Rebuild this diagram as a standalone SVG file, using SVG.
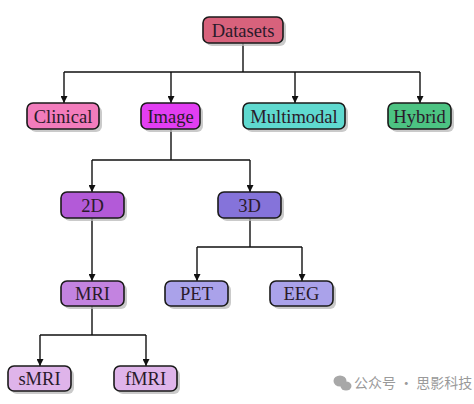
<svg xmlns="http://www.w3.org/2000/svg" width="474" height="404" viewBox="0 0 474 404">
<defs>
<style>
.box{stroke:#1a1a1a;stroke-width:1.6}
.sh{fill:#b8b8b8;opacity:0.75}
.t{font-family:"Liberation Serif","Times New Roman",serif;font-size:18.5px;fill:#2a1a2a;text-anchor:middle}
.c{fill:none;stroke:#111;stroke-width:1.4}
.wm{font-family:"Noto Sans CJK SC","Noto Sans",sans-serif;font-size:14px;fill:#9a9a9a}
</style>
<marker id="ah" viewBox="0 0 10 10" refX="10" refY="5" markerWidth="7" markerHeight="7" orient="auto" markerUnits="userSpaceOnUse">
<path d="M0,0 L10,5 L0,10 z" fill="#111"/>
</marker>
</defs>
<rect width="474" height="404" fill="#fff"/>
<g id="connectors">
<path class="c" d="M243,43 V72 M64,72 H420"/>
<path class="c" d="M64,72 V103" marker-end="url(#ah)"/>
<path class="c" d="M171,72 V103" marker-end="url(#ah)"/>
<path class="c" d="M295,72 V103" marker-end="url(#ah)"/>
<path class="c" d="M420,72 V103" marker-end="url(#ah)"/>
<path class="c" d="M171,129 V160 M92,160 H250"/>
<path class="c" d="M92,160 V192" marker-end="url(#ah)"/>
<path class="c" d="M250,160 V192" marker-end="url(#ah)"/>
<path class="c" d="M92,218 V281" marker-end="url(#ah)"/>
<path class="c" d="M250,218 V247 M197,247 H302"/>
<path class="c" d="M197,247 V281" marker-end="url(#ah)"/>
<path class="c" d="M302,247 V281" marker-end="url(#ah)"/>
<path class="c" d="M92,306 V335 M40,335 H146"/>
<path class="c" d="M40,335 V366" marker-end="url(#ah)"/>
<path class="c" d="M146,335 V366" marker-end="url(#ah)"/>
</g>
<g id="datasets"><rect class="sh" x="206" y="20" width="80" height="26" rx="6"/><rect class="box" x="203" y="17" width="80" height="26" rx="6" fill="#d8627c"/><text class="t" x="243" y="36.5">Datasets</text></g>
<g id="clinical"><rect class="sh" x="30" y="106" width="72" height="26" rx="6"/><rect class="box" x="27" y="103" width="72" height="26" rx="6" fill="#f27cbc"/><text class="t" x="63" y="122.5">Clinical</text></g>
<g id="image"><rect class="sh" x="144" y="106" width="59" height="26" rx="6"/><rect class="box" x="141" y="103" width="59" height="26" rx="6" fill="#e23ef2"/><text class="t" x="170.5" y="122.5">Image</text></g>
<g id="multimodal"><rect class="sh" x="246" y="106" width="102" height="26" rx="6"/><rect class="box" x="243" y="103" width="102" height="26" rx="6" fill="#5fd9cf"/><text class="t" x="294" y="122.5">Multimodal</text></g>
<g id="hybrid"><rect class="sh" x="391" y="106" width="63" height="26" rx="6"/><rect class="box" x="388" y="103" width="63" height="26" rx="6" fill="#4cc382"/><text class="t" x="419.5" y="122.5">Hybrid</text></g>
<g id="n2d"><rect class="sh" x="64" y="195" width="63" height="26" rx="6"/><rect class="box" x="61" y="192" width="63" height="26" rx="6" fill="#b35ad8"/><text class="t" x="92.5" y="211.5">2D</text></g>
<g id="n3d"><rect class="sh" x="221" y="195" width="63" height="26" rx="6"/><rect class="box" x="218" y="192" width="63" height="26" rx="6" fill="#8573da"/><text class="t" x="249.5" y="211.5">3D</text></g>
<g id="mri"><rect class="sh" x="64" y="284" width="63" height="25" rx="6"/><rect class="box" x="61" y="281" width="63" height="25" rx="6" fill="#c383e0"/><text class="t" x="92.5" y="300">MRI</text></g>
<g id="pet"><rect class="sh" x="168" y="284" width="63" height="25" rx="6"/><rect class="box" x="165" y="281" width="63" height="25" rx="6" fill="#aaa2ea"/><text class="t" x="196.5" y="300">PET</text></g>
<g id="eeg"><rect class="sh" x="273" y="284" width="63" height="25" rx="6"/><rect class="box" x="270" y="281" width="63" height="25" rx="6" fill="#aaa2ea"/><text class="t" x="301.5" y="300">EEG</text></g>
<g id="smri"><rect class="sh" x="11" y="369" width="63" height="25" rx="6"/><rect class="box" x="8" y="366" width="63" height="25" rx="6" fill="#dfb4ea"/><text class="t" x="39.5" y="385">sMRI</text></g>
<g id="fmri"><rect class="sh" x="117" y="369" width="63" height="25" rx="6"/><rect class="box" x="114" y="366" width="63" height="25" rx="6" fill="#dfb4ea"/><text class="t" x="145.5" y="385">fMRI</text></g>
<g id="watermark">
<ellipse cx="340" cy="381" rx="6.5" ry="5.5" fill="#a8a8a8"/><ellipse cx="346" cy="386" rx="5.5" ry="4.5" fill="#a8a8a8"/>
<text class="wm" x="354" y="388">公众号 · 思影科技</text>
</g>
</svg>
